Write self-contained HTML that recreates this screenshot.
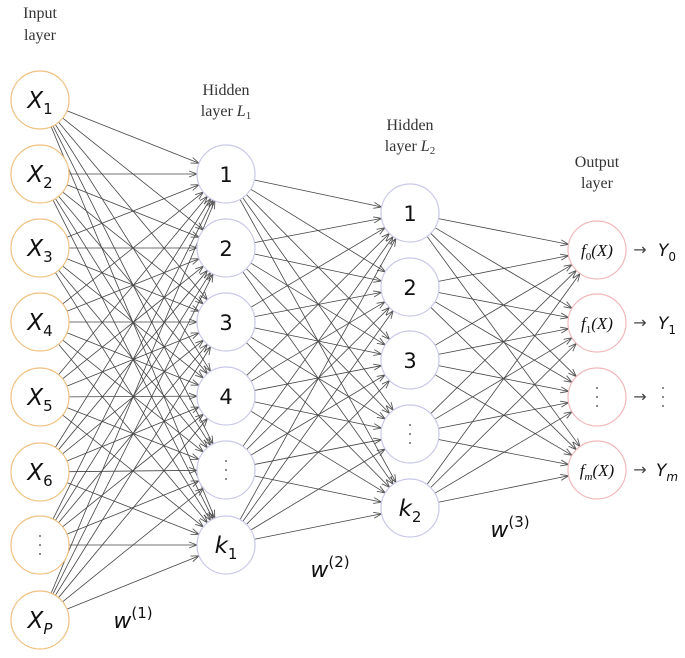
<!DOCTYPE html>
<html><head><meta charset="utf-8"><style>
html,body{margin:0;padding:0;background:#fff;}
svg{display:block}
.lab{font-family:"Liberation Serif",serif;font-size:16px;fill:#333;text-anchor:middle}
.n{font-family:"DejaVu Sans","Liberation Sans",sans-serif;font-size:21px;fill:#111;text-anchor:middle}
.it{font-family:"DejaVu Sans","Liberation Sans",sans-serif;font-style:italic;fill:#111;text-anchor:middle}
.fx{font-family:"Liberation Serif",serif;font-style:italic;fill:#111;text-anchor:middle}
</style></head><body>
<svg id="s" width="685" height="658" viewBox="0 0 685 658" xmlns="http://www.w3.org/2000/svg">
<defs><marker id="a" markerWidth="10" markerHeight="8" refX="9" refY="4" orient="auto" markerUnits="userSpaceOnUse"><path d="M1,1 L9,4 L1,7" fill="none" stroke="#555" stroke-width="0.9"/></marker></defs>
<g id="edges" stroke="#444" stroke-width="0.8" fill="none"></g>
<g id="nodes"></g>
<text class="lab" x="40" y="18">Input</text><text class="lab" x="40" y="40">layer</text>
<text class="lab" x="226" y="95">Hidden</text><text class="lab" x="226" y="116">layer <tspan font-style="italic">L</tspan><tspan font-size="11" dy="3">1</tspan></text>
<text class="lab" x="410" y="130">Hidden</text><text class="lab" x="410" y="151">layer <tspan font-style="italic">L</tspan><tspan font-size="11" dy="3">2</tspan></text>
<text class="lab" x="597" y="167">Output</text><text class="lab" x="597" y="188">layer</text>
<text class="it" x="133" y="628" font-size="22">w<tspan font-style="normal" font-size="15" dy="-10">(1)</tspan></text>
<text class="it" x="330" y="577" font-size="22">w<tspan font-style="normal" font-size="15" dy="-10">(2)</tspan></text>
<text class="it" x="510" y="537" font-size="22">w<tspan font-style="normal" font-size="15" dy="-10">(3)</tspan></text>
</svg>
<script>
var NS="http://www.w3.org/2000/svg";
var L0={x:40,r:29,ys:[100,174,248,322,397,472,545,620],c:"#f0c080",lab:["X|1","X|2","X|3","X|4","X|5","X|6",":","X|P"]};
var L1={x:226,r:29,ys:[174,248,322,396,470,545],c:"#c8c8e8",lab:["1","2","3","4",":","k|1"]};
var L2={x:410,r:29,ys:[213,287,360,434,508],c:"#c8c8e8",lab:["1","2","3",":","k|2"]};
var L3={x:597,r:29,ys:[250,323,397,470],c:"#f0b8b8",lab:["f0","f1",":","fm"]};
var E=document.getElementById("edges"),N=document.getElementById("nodes");
function el(t,a,p){var e=document.createElementNS(NS,t);for(var k in a)e.setAttribute(k,a[k]);(p||N).appendChild(e);return e;}
function conn(A,B){A.ys.forEach(function(ya){B.ys.forEach(function(yb){var dx=B.x-A.x,dy=yb-ya,d=Math.hypot(dx,dy);
el("line",{x1:A.x+dx/d*A.r,y1:ya+dy/d*A.r,x2:B.x-dx/d*B.r,y2:yb-dy/d*B.r,"marker-end":"url(#a)"},E);});});}
conn(L0,L1);conn(L1,L2);conn(L2,L3);
function dots(x,y){for(var i=-1;i<=1;i++)el("circle",{cx:x,cy:y+i*9,r:1,fill:"#666"});}
function draw(L){L.ys.forEach(function(y,i){el("circle",{cx:L.x,cy:y,r:L.r,fill:"#fff",stroke:L.c,"stroke-width":1.2});
var s=L.lab[i];if(s==":"){dots(L.x,y);return;}
if(s.indexOf("|")>0){var p=s.split("|");var t=el("text",{x:L.x,y:y+8,"class":"it","font-size":"23"});t.textContent=p[0];
var b=el("tspan",{"font-size":"15",dy:"6","font-style":"normal"},t);b.textContent=p[1];if(p[1]=="P")b.setAttribute("font-style","italic");return;}
if(L===L3){var t=el("text",{x:L.x,y:y+6,"class":"fx","font-size":"17"});t.textContent="f";var b=el("tspan",{"font-size":"11",dy:"4","font-style":s[1]=="m"?"italic":"normal"},t);b.textContent=s[1];var c=el("tspan",{dy:"-4"},t);c.textContent="(X)";return;}
var t=el("text",{x:L.x,y:y+8,"class":"n"});t.textContent=s;});}
[L0,L1,L2,L3].forEach(draw);
var ylab=["0","1",":","m"];
L3.ys.forEach(function(y,i){var t=el("text",{x:640,y:y+5,"font-size":"16",fill:"#444","font-family":"DejaVu Sans,sans-serif","text-anchor":"middle"});t.textContent="→";
if(i==2){dots(663,y);return;}
var u=el("text",{x:667,y:y+6,"class":"it","font-size":"17"});u.textContent="Y";var b=el("tspan",{"font-size":"12",dy:"5","font-style":i==3?"italic":"normal"},u);b.textContent=ylab[i];});
</script>
</body></html>
